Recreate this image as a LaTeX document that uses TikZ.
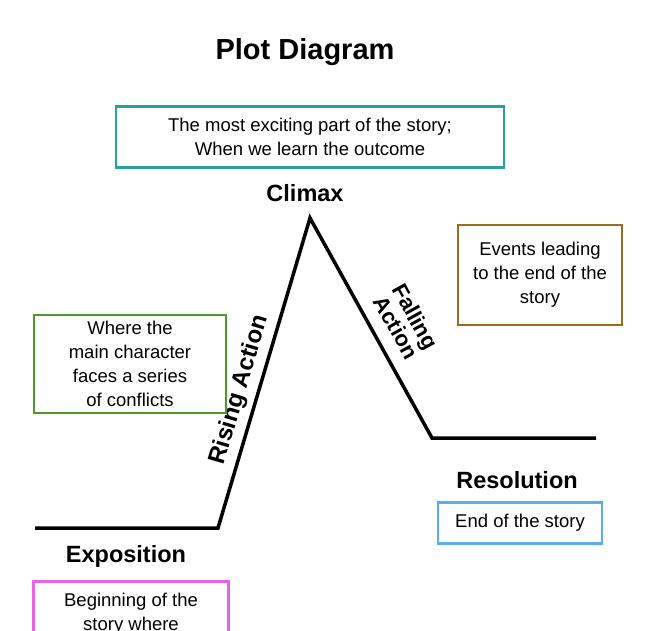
\documentclass[tikz,border=0pt]{standalone}
\usepackage{fontspec}
\setmainfont{Liberation Sans}
\usetikzlibrary{positioning}
\definecolor{tealbox}{RGB}{40,160,160}
\definecolor{greenbox}{RGB}{80,150,40}
\definecolor{brownbox}{RGB}{150,110,30}
\definecolor{bluebox}{RGB}{90,175,235}
\definecolor{pinkbox}{RGB}{230,100,230}
\tikzset{
  infobox/.style={draw=#1, line width=2.5pt, align=center, font=\fontsize{18.5}{24}\selectfont, inner sep=0pt},
  heading/.style={font=\bfseries\fontsize{23.5}{28}\selectfont},
  plotline/.style={line width=3.5pt, line join=miter}
}
\begin{document}
\begin{tikzpicture}[x=1pt,y=-1pt]
\clip (0,0) rectangle (672,630);
\fill[white] (0,0) rectangle (672,630);
% title and headings
\node[font=\bfseries\fontsize{29}{34}\selectfont] (title) at (305,52) {Plot Diagram};
\node[heading] (climax) at (305,193) {Climax};
\node[heading] (resolution) at (517,480) {Resolution};
\node[heading] (exposition) at (126,556) {Exposition};
% the plot line
\coordinate (start) at (35,528);
\coordinate (base) at (218,528);
\coordinate (peak) at (310,218);
\coordinate (fall) at (432,438);
\coordinate (end) at (596,438);
\draw[plotline] (start) -- (base) -- (peak) -- (fall) -- (end);
\node[heading, rotate=73.5, font=\bfseries\fontsize{24}{28}\selectfont] (rising) at (240,390) {Rising Action};
\node[rotate=-61, align=center, font=\bfseries\fontsize{22}{22}\selectfont] (falling) at (406,322) {Falling\\Action};
% boxes
\node[infobox=tealbox, minimum width=388pt, minimum height=61pt] (most) at (310,137) {The most exciting part of the story;\\When we learn the outcome};
\node[infobox=greenbox, minimum width=192pt, minimum height=98pt] (where) at (130,364) {Where the\\main character\\faces a series\\of conflicts};
\node[infobox=brownbox, minimum width=164pt, minimum height=100pt] (events) at (540,275) {Events leading\\to the end of the\\story};
\node[infobox=bluebox, minimum width=164pt, minimum height=41pt] (endstory) at (520,523) {End of the story};
\node[infobox=pinkbox, minimum width=195pt, minimum height=70pt, anchor=north] (begin) at (131,580) {};
\node[align=center, font=\fontsize{18.5}{24}\selectfont, anchor=north] (begintext) at (131,590) {Beginning of the\\story where};
\end{tikzpicture}
\end{document}
